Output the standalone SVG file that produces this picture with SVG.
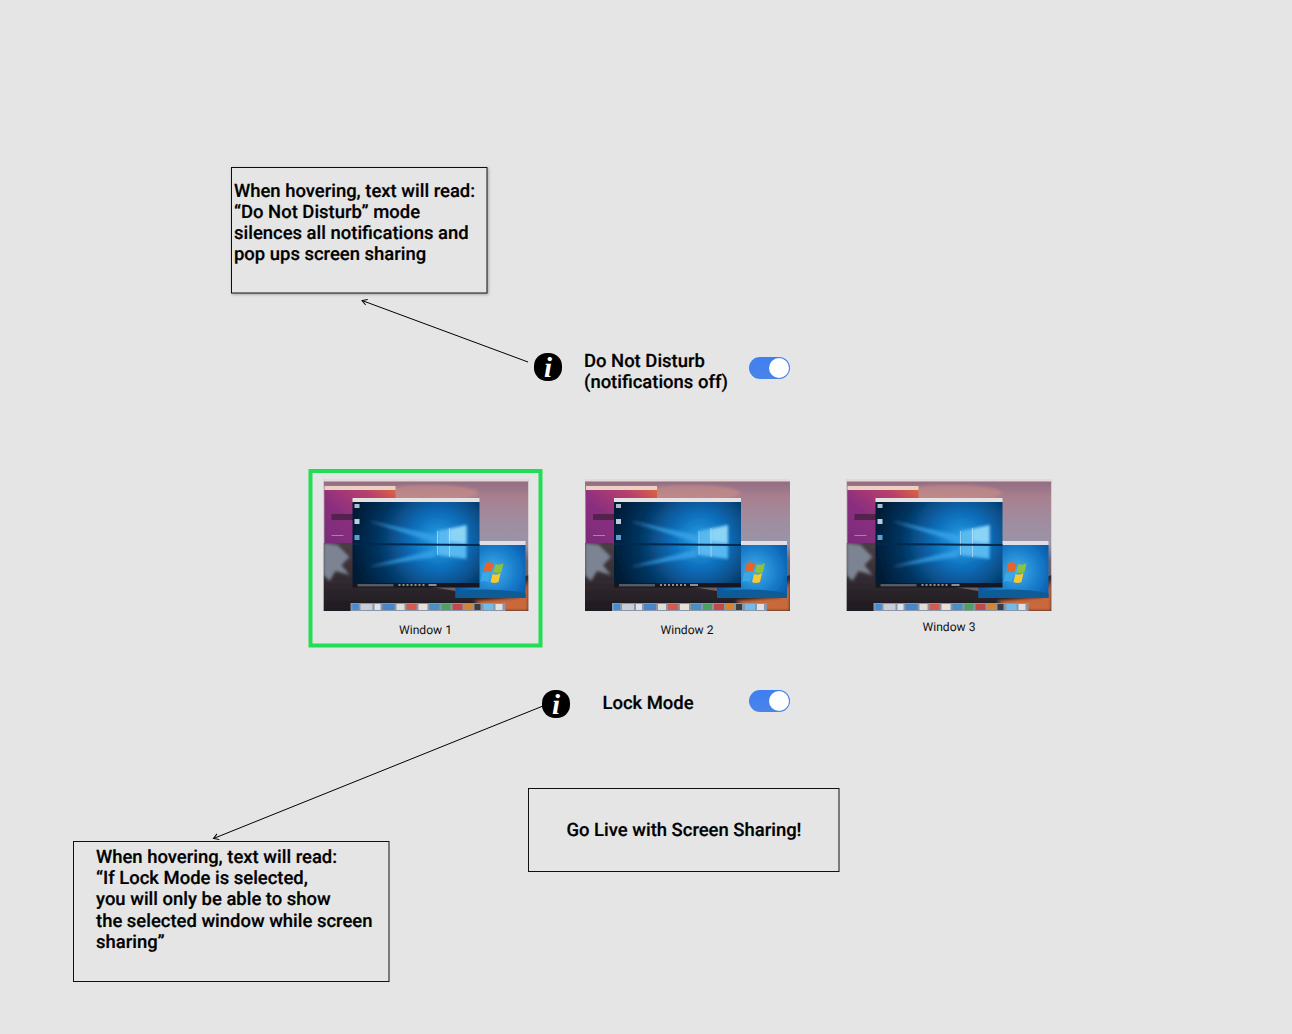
<svg xmlns="http://www.w3.org/2000/svg" width="1292" height="1034" viewBox="0 0 1292 1034">
<style>
text{font-family:Roboto,"Liberation Sans",sans-serif;fill:#000;text-rendering:geometricPrecision}
.b{font-size:18.450px;font-weight:500;stroke:#000;stroke-width:.2}
.c{font-size:12.100px;fill:#111}
.box{fill:#e5e5e5;stroke:#111;stroke-width:1}
.conn{fill:none;stroke:#000;stroke-width:1}
.ibg{fill:#000}
.it{font-family:"Liberation Serif",serif;font-size:29px;font-weight:700;font-style:italic;fill:#fff;text-anchor:middle}
</style>
<defs>
<marker id="arr" markerWidth="8" markerHeight="8" refX="7" refY="4" orient="auto" markerUnits="userSpaceOnUse"><path d="M2,1 L7,4 L2,7" fill="none" stroke="#000" stroke-width="1"/></marker>
<linearGradient id="sky" x1="0" y1="0" x2="0" y2="1"><stop offset="0" stop-color="#8f6a80"/><stop offset=".14" stop-color="#a88090"/><stop offset=".3" stop-color="#a08c9e"/><stop offset=".5" stop-color="#9a94a8"/><stop offset=".62" stop-color="#6e6470"/><stop offset="1" stop-color="#6e5a58"/></linearGradient>
<linearGradient id="rock" x1="0" y1="0" x2="0" y2="1"><stop offset="0" stop-color="#4a3e44"/><stop offset="1" stop-color="#1e1a20"/></linearGradient>
<linearGradient id="purple" x1="1" y1="0" x2="0" y2="1"><stop offset="0" stop-color="#dc6440"/><stop offset=".22" stop-color="#b8406c"/><stop offset=".6" stop-color="#8a2e80"/><stop offset="1" stop-color="#7a2c78"/></linearGradient>
<radialGradient id="w10" gradientUnits="userSpaceOnUse" cx="115" cy="62" r="90"><stop offset="0" stop-color="#2aa2ea"/><stop offset=".32" stop-color="#0b6cb8"/><stop offset=".68" stop-color="#04345f"/><stop offset="1" stop-color="#021a33"/></radialGradient>
<radialGradient id="w7" gradientUnits="userSpaceOnUse" cx="170" cy="92" r="42"><stop offset="0" stop-color="#44aee8"/><stop offset=".6" stop-color="#1478c8"/><stop offset="1" stop-color="#0a54a4"/></radialGradient>
<linearGradient id="tog" x1="0" y1="0" x2="0" y2="1"><stop offset="0" stop-color="#3f7ff2"/><stop offset="1" stop-color="#4a84e8"/></linearGradient>
<filter id="sh" x="-5%" y="-5%" width="110%" height="110%"><feDropShadow dx="1" dy="1" stdDeviation="1.500" flood-color="#000" flood-opacity=".3"/></filter>
<filter id="soft" x="0" y="0" width="100%" height="100%"><feGaussianBlur stdDeviation=".7"/></filter>
<filter id="glow" x="-20%" y="-20%" width="140%" height="140%"><feGaussianBlur stdDeviation="1.500"/></filter>
<symbol id="shot" viewBox="0 0 205 132" width="205" height="132">
<g filter="url(#soft)">
<rect width="205" height="132" fill="url(#sky)"/>
<ellipse cx="105" cy="14" rx="50" ry="8" fill="#cc9088" opacity=".6" filter="url(#glow)"/>
<path d="M0,64 L30,64 L60,100 L132,112 L150,118 L205,96 L205,132 L0,132Z" fill="url(#rock)"/>
<path d="M0,64 L14,66 L26,78 L18,86 L26,96 L12,92 L6,102 L0,96Z" fill="#7c8494" filter="url(#glow)"/>
<path d="M150,122 L196,118 L205,100 L205,132 L170,132Z" fill="#c8683a" filter="url(#glow)"/>
<rect width="205" height="2.500" fill="#e4d8d8"/>
<rect x="1" y="11" width="71" height="53" fill="url(#purple)"/>
<rect x="1" y="7" width="71" height="4" fill="#ecd0c4"/>
<rect x="8" y="35" width="22" height="6" fill="#54204e"/>
<rect x="8" y="56" width="12" height="1" fill="#b87aa8"/>
<rect x="132" y="62" width="70" height="4" fill="#dfe0e6"/>
<rect x="132" y="66" width="70" height="53" fill="url(#w7)"/>
<path d="M132,119 L202,119 L202,114 Q170,108 132,112Z" fill="#0e5c98"/>
<path d="M162,84 Q166,82 170,85 L168,93 Q164,91 160,92Z" fill="#e8632c"/>
<path d="M172,85 Q176,87 180,84 L178,93 Q174,95 170,93Z" fill="#8cc23e"/>
<path d="M159,94 Q163,92 167,95 L165,103 Q161,101 157,103Z" fill="#38a8e8"/>
<path d="M169,95 Q173,97 177,94 L175,103 Q171,105 167,103Z" fill="#f6c832"/>
<rect x="29" y="19" width="127" height="4.500" fill="#e6e2e2"/>
<rect x="29" y="23" width="127" height="81" fill="url(#w10)"/>
<g filter="url(#glow)">
<path d="M45,42 L112,56 L112,64 Z" fill="#3aa6ea" opacity=".75"/>
<path d="M45,88 L112,70 L112,78 Z" fill="#3aa6ea" opacity=".75"/>
<path d="M114,52 L143,46 L143,80 L114,76Z" fill="#58b8f0"/>
<path d="M126,50 L143,46 L143,64 L126,62Z" fill="#8cd4f6"/>
</g>
<path d="M114,52 L114,76 M126,49 L126,78" stroke="#d4f0fc" stroke-width=".8" opacity=".7" fill="none"/>
<path d="M29,65 L156,66" stroke="#032a50" stroke-width="2" fill="none"/>
<rect x="29" y="104" width="127" height="4.500" fill="#14181e"/>
<rect x="34" y="105" width="36" height="2.500" fill="#565a60"/>
<path d="M75,106 h2 m2,0 h2 m2,0 h2 m2,0 h2 m2,0 h2 m2,0 h2 m2,0 h2 m4,0 h8" stroke="#b4b8bc" stroke-width="1.500" fill="none"/>
<rect x="31" y="25" width="5" height="4" fill="#aebccc"/><rect x="31" y="40" width="5" height="5" fill="#c0cdd8"/><rect x="31" y="56" width="5" height="5" fill="#5aa0d4"/>
<rect x="27" y="124" width="155" height="8" fill="#8a96a8"/>
<rect x="29" y="125" width="6" height="6" fill="#3f8ed6"/><rect x="37" y="125" width="12" height="6" fill="#c8ccd4"/><rect x="51" y="125" width="6" height="6" fill="#dfe2e6"/><rect x="59" y="125" width="12" height="6" fill="#4a86c8"/><rect x="73" y="125" width="8" height="6" fill="#e0ddd8"/><rect x="83" y="125" width="10" height="6" fill="#d45a50"/><rect x="95" y="125" width="9" height="6" fill="#e8e2d6"/><rect x="106" y="125" width="10" height="6" fill="#4a90c0"/><rect x="118" y="125" width="9" height="6" fill="#4ea060"/><rect x="129" y="125" width="10" height="6" fill="#c04a4a"/><rect x="141" y="125" width="8" height="6" fill="#d8842c"/><rect x="151" y="125" width="6" height="6" fill="#3a3a40"/><rect x="160" y="125" width="10" height="6" fill="#70bce8"/><rect x="172" y="125" width="7" height="6" fill="#e0e0e4"/>
</g>
</symbol>
</defs>
<rect width="1292" height="1034" fill="#e5e5e5"/>
<g id="connectors">
<line class="conn" x1="528" y1="362" x2="362" y2="300.500" marker-end="url(#arr)"/>
<line class="conn" x1="543" y1="706" x2="213.500" y2="838.500" marker-end="url(#arr)"/>
</g>
<g id="hover-dnd">
<rect class="box" x="231.500" y="167.500" width="255.500" height="125.500" filter="url(#sh)"/>
<text class="b"><tspan x="234" y="197">When hovering, text will read:</tspan><tspan x="234" y="218">“Do Not Disturb” mode</tspan><tspan x="234" y="239">silences all notifications and</tspan><tspan x="234" y="260">pop ups screen sharing</tspan></text>
</g>
<g id="dnd-info"><rect class="ibg" x="534" y="353" width="28" height="28" rx="13"/><text class="it" x="548" y="377">i</text></g>
<g id="dnd-label"><text class="b"><tspan x="584" y="367">Do Not Disturb</tspan><tspan x="584" y="388">(notifications off)</tspan></text></g>
<g id="dnd-toggle"><rect x="749" y="357" width="41" height="22" rx="11" fill="url(#tog)"/><circle cx="779" cy="368" r="10" fill="#fff"/></g>
<g id="window1">
<rect x="310.500" y="471" width="230" height="174.500" fill="none" stroke="#22dd55" stroke-width="4"/>
<use href="#shot" x="323.500" y="479"/>
<text class="c" x="425.500" y="634" text-anchor="middle">Window 1</text>
</g>
<g id="window2">
<use href="#shot" x="585" y="479"/>
<text class="c" x="687" y="634" text-anchor="middle">Window 2</text>
</g>
<g id="window3">
<use href="#shot" x="846.500" y="479"/>
<text class="c" x="949" y="631" text-anchor="middle">Window 3</text>
</g>
<g id="lock-info"><rect class="ibg" x="542" y="690" width="28" height="28" rx="13"/><text class="it" x="556" y="714">i</text></g>
<g id="lock-label"><text class="b" x="602.500" y="709">Lock Mode</text></g>
<g id="lock-toggle"><rect x="749" y="690" width="41" height="22" rx="11" fill="url(#tog)"/><circle cx="779" cy="701" r="10" fill="#fff"/></g>
<g id="go-live">
<rect class="box" x="528.500" y="788.500" width="310.500" height="83"/>
<text class="b" x="684" y="836" text-anchor="middle">Go Live with Screen Sharing!</text>
</g>
<g id="hover-lock">
<rect class="box" x="73.500" y="841.500" width="315.500" height="140"/>
<text class="b"><tspan x="96" y="863">When hovering, text will read:</tspan><tspan x="96" y="884">“If Lock Mode is selected,</tspan><tspan x="96" y="905">you will only be able to show</tspan><tspan x="96" y="927">the selected window while screen</tspan><tspan x="96" y="948">sharing”</tspan></text>
</g>
</svg>
